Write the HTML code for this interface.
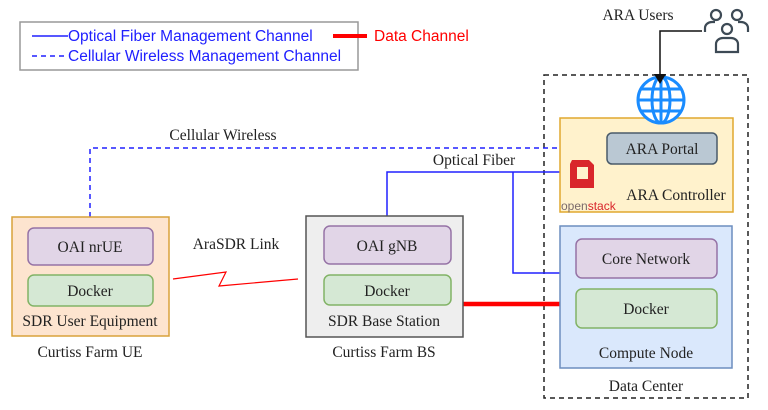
<!DOCTYPE html>
<html><head><meta charset="utf-8"><style>
html,body{margin:0;padding:0;background:#fff}
svg text{font-family:"Liberation Serif",serif;font-size:15.5px;fill:#222}
.s{font-family:"Liberation Sans",sans-serif!important}
</style></head><body>
<svg width="768" height="405" viewBox="0 0 768 405" xmlns="http://www.w3.org/2000/svg">
<!-- legend -->
<rect x="20" y="22" width="338" height="48" fill="#fff" stroke="#999" stroke-width="1.5"/>
<line x1="32" y1="36" x2="68" y2="36" stroke="#2020ff" stroke-width="1.5"/>
<text x="68" y="41" class="s" style="fill:#2020ff;font-size:15.5px">Optical Fiber Management Channel</text>
<line x1="333" y1="36" x2="367" y2="36" stroke="red" stroke-width="4"/>
<text x="374" y="41" class="s" style="fill:red;font-size:15.5px">Data Channel</text>
<line x1="32" y1="56" x2="68" y2="56" stroke="#2020ff" stroke-width="1.5" stroke-dasharray="5,4"/>
<text x="68" y="61" class="s" style="fill:#2020ff;font-size:15.5px">Cellular Wireless Management Channel</text>

<!-- data center -->
<rect x="544" y="75" width="204" height="323" fill="none" stroke="#222" stroke-width="1.5" stroke-dasharray="5,4"/>
<text x="646" y="391" text-anchor="middle">Data Center</text>

<!-- connectors -->
<polyline points="90,217 90,148 560,148" fill="none" stroke="#2020ff" stroke-width="1.5" stroke-dasharray="5,4"/>
<text x="223" y="140" text-anchor="middle">Cellular Wireless</text>
<polyline points="387,216 387,172 560,172" fill="none" stroke="#2020ff" stroke-width="1.5"/>
<polyline points="513,172 513,273 560,273" fill="none" stroke="#2020ff" stroke-width="1.5"/>
<text x="474" y="165" text-anchor="middle">Optical Fiber</text>
<line x1="463" y1="304" x2="560" y2="304" stroke="red" stroke-width="4.5"/>
<polyline points="173,279 226,272 219,286 298,279" fill="none" stroke="red" stroke-width="1.2"/>
<text x="236" y="249" text-anchor="middle">AraSDR Link</text>

<!-- UE -->
<rect x="12" y="217" width="157" height="119" fill="#fde4cf" stroke="#d8a23a" stroke-width="1.5"/>
<rect x="28" y="228" width="125" height="37" rx="6" fill="#e1d5e7" stroke="#9673a6" stroke-width="1.5"/>
<text x="90" y="252" text-anchor="middle">OAI nrUE</text>
<rect x="28" y="275" width="125" height="31" rx="6" fill="#d5e8d4" stroke="#82b366" stroke-width="1.5"/>
<text x="90" y="296" text-anchor="middle">Docker</text>
<text x="90" y="326" text-anchor="middle">SDR User Equipment</text>
<text x="90" y="357" text-anchor="middle">Curtiss Farm UE</text>

<!-- BS -->
<rect x="306" y="216" width="157" height="121" fill="#eee" stroke="#555" stroke-width="1.5"/>
<rect x="324" y="226" width="127" height="38" rx="6" fill="#e1d5e7" stroke="#9673a6" stroke-width="1.5"/>
<text x="387" y="251" text-anchor="middle">OAI gNB</text>
<rect x="324" y="275" width="127" height="30" rx="6" fill="#d5e8d4" stroke="#82b366" stroke-width="1.5"/>
<text x="387" y="296" text-anchor="middle">Docker</text>
<text x="384" y="326" text-anchor="middle">SDR Base Station</text>
<text x="384" y="357" text-anchor="middle">Curtiss Farm BS</text>

<!-- ARA controller -->
<rect x="560" y="118" width="173" height="94" fill="#fff2cc" stroke="#e0a82e" stroke-width="1.5"/>
<rect x="607" y="133" width="110" height="31" rx="5" fill="#bac8d3" stroke="#4a5b6a" stroke-width="1.5"/>
<text x="662" y="154" text-anchor="middle">ARA Portal</text>
<text x="676" y="200" text-anchor="middle">ARA Controller</text>
<path d="M572 160 h17 l5 5 v23 h-24 v-24 z" fill="#d9262b"/>
<rect x="577" y="167" width="11" height="12" fill="#fff2cc"/>
<text x="561" y="210" class="s" style="font-size:12px;fill:#7a6a6a">open<tspan style="fill:#d9262b">stack</tspan></text>

<!-- globe -->
<g fill="none" stroke="#1a8cff" stroke-width="3">
<circle cx="661" cy="100" r="23" fill="#fff"/>
<ellipse cx="661" cy="100" rx="9" ry="23"/>
<line x1="661" y1="77" x2="661" y2="123"/>
<line x1="638" y1="100" x2="684" y2="100"/>
<line x1="641" y1="89" x2="681" y2="89"/>
<line x1="641" y1="111" x2="681" y2="111"/>
</g>

<!-- users + arrow -->
<text x="638" y="20" text-anchor="middle">ARA Users</text>
<polyline points="702,31 660,31 660,76" fill="none" stroke="#111" stroke-width="1.5"/>
<polygon points="654,74 666,74 660,84" fill="#111"/>
<g fill="none" stroke="#3d4a55" stroke-width="2.2">
<circle cx="716" cy="15" r="5"/><circle cx="737" cy="15" r="5"/><circle cx="727" cy="29" r="5"/>
<path d="M705 32 v-4 a7 6 0 0 1 7-6 h3"/><path d="M748 32 v-4 a7 6 0 0 0 -7-6 h-3"/>
<path d="M716 52 v-8 a7 6 0 0 1 7-6 h8 a7 6 0 0 1 7 6 v8 z"/>
</g>

<!-- compute node -->
<rect x="560" y="226" width="172" height="142" fill="#dae8fc" stroke="#6c8ebf" stroke-width="1.5"/>
<rect x="576" y="239" width="141" height="39" rx="6" fill="#e1d5e7" stroke="#9673a6" stroke-width="1.5"/>
<text x="646" y="264" text-anchor="middle">Core Network</text>
<rect x="576" y="289" width="141" height="39" rx="6" fill="#d5e8d4" stroke="#82b366" stroke-width="1.5"/>
<text x="646" y="314" text-anchor="middle">Docker</text>
<text x="646" y="358" text-anchor="middle">Compute Node</text>
</svg>
</body></html>
